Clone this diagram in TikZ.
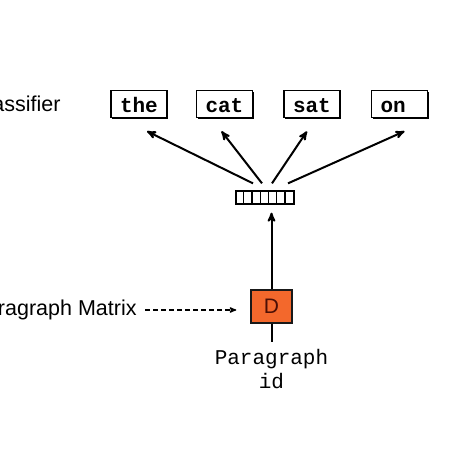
\documentclass[tikz,border=0pt]{standalone}
\usepackage{fontspec}
\setmainfont{Liberation Sans}
\setmonofont{Liberation Mono}
\usetikzlibrary{arrows, positioning, shadows}
\definecolor{docorange}{RGB}{243,104,44}
\definecolor{docbrown}{RGB}{75,15,5}

\begin{document}
\begin{tikzpicture}[x=1pt,y=-1pt,>=stealth',thick,
    word node/.style={draw,line width=1.5pt,fill=white,font=\fontsize{21}{24}\selectfont\ttfamily\bfseries,
      text width=38pt,text height=16pt,text depth=0pt,align=left,inner xsep=9pt,inner ysep=0pt,minimum height=27pt,
      drop shadow={shadow xshift=1.3pt,shadow yshift=-1.2pt,opacity=1,fill=black}},
    doc node/.style={draw=black!90,line width=1.4pt,fill=docorange,minimum width=41pt,minimum height=33pt,
      inner sep=0pt,font=\fontsize{21}{24}\selectfont,text=docbrown},
    vec node/.style={draw,line width=1.3pt,minimum width=58pt,minimum height=13pt,inner sep=0pt},
    side label/.style={font=\fontsize{21.5}{24}\selectfont,anchor=east,inner sep=0pt},
    arr/.style={->,line width=2pt}]

        \useasboundingbox (0,0) rectangle (474,474);
        \clip (0,0) rectangle (474,474);

        \node[word node] (the)                  at (139,104) {the};
        \node[word node] (cat) [right=28pt of the] {cat};
        \node[word node] (sat) [right=30pt of cat] {sat};
        \node[word node] (on)  [right=30pt of sat] {on};

        \node[side label] (classifier) at (61,104) {Classifier};

        \node[vec node] (vec) at (265,197.5) {};
        \foreach \i in {1,...,6}
            \draw[line width=1.3pt] ([xshift=\i*8.286pt]vec.north west) -- ([xshift=\i*8.286pt]vec.south west);

        \node[doc node] (D) at (271.5,306.5) {D};
        \node[side label] (matrix) at (137,310) {Paragraph Matrix};
        \node[font=\fontsize{21}{24}\selectfont\ttfamily,align=center,inner sep=0pt] (pid) [below=25pt of D] {Paragraph\\id};

        \foreach \w/\ox/\ix in {the/-12/8, cat/-3/-3, sat/7/-5, on/23/5}
            \draw[arr] ([xshift=\ox pt,yshift=7pt]vec.north) -- ([xshift=\ix pt,yshift=-13pt]\w.south);

        \draw[arr,shorten >=8pt] (D.north) -- (D.north |- vec.south);
        \draw[line width=2pt,shorten >=7pt] (D.south) -- (pid.north);
        \draw[->,line width=1.3pt,dash pattern=on 5pt off 3pt,shorten <=8pt,shorten >=14pt]
            (matrix.east) -- (matrix.east -| D.west);
\end{tikzpicture}
\end{document}
